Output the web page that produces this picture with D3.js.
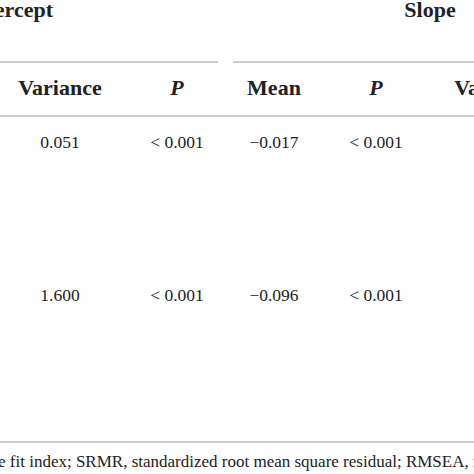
<!DOCTYPE html>
<html><head><meta charset="utf-8">
<script src="https://cdn.jsdelivr.net/npm/d3@7"></script>
<style>body{margin:0;background:#fff}svg{display:block}text{font-family:"Liberation Serif","DejaVu Serif",serif;fill:#222}</style>
</head><body><svg width="474" height="474"></svg>
<script>
const columns = ["Variance", "P", "Mean", "P2", "Variance2"];
const columnLabels = ["Variance", "P", "Mean", "P", "Variance"];
const columnCenters = [60, 177, 274, 376, 496];
const row1 = ["0.051", "< 0.001", "\u22120.017", "< 0.001", "0.00"];
const row2 = ["1.600", "< 0.001", "\u22120.096", "< 0.001", "0.00"];
const footnote = "e fit index; SRMR, standardized root mean square residual; RMSEA, root mean square error of approximation.";

const svg = d3.select("svg");
const x = d3.scaleOrdinal().domain(columns).range(columnCenters);
const lineColor = "#bdbdbd";

// group headers
svg.append("text").attr("x", 53).attr("y", 17).attr("text-anchor", "end")
  .style("font-size", "22px").style("font-weight", "bold").text("Intercept");
svg.append("text").attr("x", 430).attr("y", 17).attr("text-anchor", "middle")
  .style("font-size", "22px").style("font-weight", "bold").text("Slope");

// rules
[[0, 218, 62], [233, 474, 62], [0, 474, 116], [0, 474, 442]].forEach(([x1, x2, y]) => {
  svg.append("line").attr("x1", x1).attr("x2", x2).attr("y1", y).attr("y2", y)
    .attr("stroke", lineColor).attr("stroke-width", 1.5);
});

// column headers
svg.selectAll("text.head").data(columns).enter().append("text")
  .attr("class", "head")
  .attr("x", d => x(d)).attr("y", 95).attr("text-anchor", "middle")
  .style("font-size", "22px").style("font-weight", "bold")
  .style("font-style", (d, i) => columnLabels[i] === "P" ? "italic" : "normal")
  .text((d, i) => columnLabels[i]);

// rows
[[row1, 148], [row2, 301]].forEach(([vals, y]) => {
  svg.append("g").selectAll("text").data(vals).enter().append("text")
    .attr("x", (d, i) => x(columns[i])).attr("y", y).attr("text-anchor", "middle")
    .style("font-size", "17.5px").text(d => d);
});

svg.append("text").attr("x", -2).attr("y", 467).style("font-size", "17px").text(footnote);
</script></body></html>
